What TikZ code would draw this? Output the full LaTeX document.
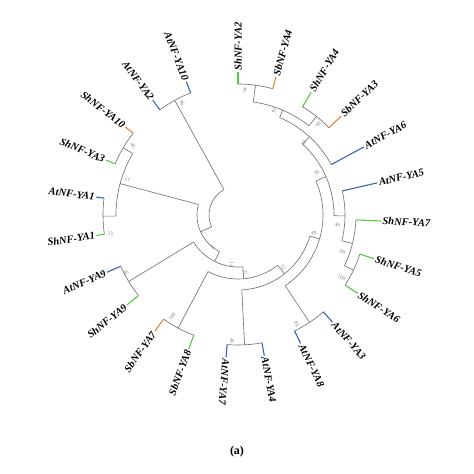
\documentclass[tikz,border=0pt]{standalone}
\usepackage{fontspec}
\setmainfont{Liberation Serif}
\usepackage{tikz}

\definecolor{atblue}{RGB}{52,100,190}
\definecolor{shgreen}{RGB}{86,200,64}
\definecolor{sborange}{RGB}{228,132,52}
\definecolor{treegray}{RGB}{115,115,115}
\definecolor{bootgray}{RGB}{130,130,130}

\begin{document}
\begin{tikzpicture}[x=1pt, y=1pt,
    branch/.style={treegray, line width=0.65pt},
    tipline/.style={line width=1.1pt},
    taxon/.style={font=\fontsize{10.5}{12}\selectfont\bfseries\itshape, inner sep=1.5pt},
    boot/.style={text=bootgray, font=\fontsize{5.3}{6}\selectfont, inner sep=0pt}]

\useasboundingbox (-238,-259) rectangle (236,215);

% --- inner clades: name / angle / radius / parent radius / arc from / arc to ---
\foreach \name/\ang/\r/\pr/\aa/\ab in {
    n94/82.3/131/114/90/74.6,
    n99/51.5/126/114/59.2/43.8,
    n96a/66.9/114/106/82.3/51.5,
    n33/47.65/106/96/66.9/28.4,
    n100a/-25.5/128/118/-17.8/-33.2,
    n68/-13.95/118/107/-2.4/-25.5,
    n46/-0.475/107/96/13/-13.95,
    n30/23.59/96/85/47.65/-0.475,
    n86/-56.3/129/85/-48.6/-64,
    n49a/-16.36/85/75/23.59/-56.3,
    n49b/-87.1/130/75/-79.4/-94.8,
    n52/-51.73/75/64/-16.36/-87.1,
    n100b/-117.9/128/64/-110.2/-125.6,
    n21/-84.8/64/52/-51.73/-117.9,
    n45/-148.7/128/52/-141/-156.4,
    n14/-116.77/52/41/-84.8/-148.7,
    n13/-179.5/135/122/-171.8/-187.2,
    n96b/-210.3/133/122/-202.6/-218,
    n17/-194.9/122/41/-179.5/-210.3,
    n8/-155.8/41/29/-116.77/-194.9,
    n96c/-241.1/131/29/-233.4/-248.8,
    root/-198.45/29/29/-155.8/-241.1}{
  \draw[branch] (\ang:\pr) -- (\ang:\r) coordinate (\name);
  \draw[branch] (\aa:\r) arc[start angle=\aa, end angle=\ab, radius=\r pt];
}

% --- leaves: label / angle / colour / radius of the parent arc ---
\foreach \name/\ang/\col/\pr in {
    ShNF-YA2/90/shgreen/131,
    SbNF-YA4/74.6/sborange/131,
    ShNF-YA4/59.2/shgreen/126,
    SbNF-YA3/43.8/sborange/126,
    AtNF-YA6/28.4/atblue/106,
    AtNF-YA5/13/atblue/107,
    ShNF-YA7/-2.4/shgreen/118,
    ShNF-YA5/-17.8/shgreen/128,
    ShNF-YA6/-33.2/shgreen/128,
    AtNF-YA3/-48.6/atblue/129,
    AtNF-YA8/-64/atblue/129,
    AtNF-YA4/-79.4/atblue/130,
    AtNF-YA7/-94.8/atblue/130,
    SbNF-YA8/-110.2/shgreen/128,
    SbNF-YA7/-125.6/sborange/128,
    ShNF-YA9/-141/shgreen/128,
    AtNF-YA9/-156.4/atblue/128,
    ShNF-YA1/-171.8/shgreen/135,
    AtNF-YA1/-187.2/atblue/135,
    ShNF-YA3/-202.6/shgreen/133,
    ShNF-YA10/-218/sborange/133,
    AtNF-YA2/-233.4/atblue/131,
    AtNF-YA10/-248.8/atblue/131}{
  \draw[tipline, \col] (\ang:\pr) -- (\ang:143) coordinate (tip-\name);
  \ifdim \ang pt>-100pt
    \node[taxon, anchor=west, rotate=\ang] (\name) at (tip-\name) {\name};
  \else
    \node[taxon, anchor=east, rotate=\ang+180] (\name) at (tip-\name) {\name};
  \fi
}

% --- bootstrap values: name / angle / radius / value ---
\foreach \name/\ang/\r/\val in {
    b94/86.8/125/94, b99/48.3/121/99, b96a/70.9/111/96, b33/47.6/97/33,
    b30/28/89/30, b46/-5.7/100/46, b68/-19.4/111/68, b100a/-31/121/100,
    b49a/-13.5/78/49, b52/-49/69/52, b21/-83/58/21, b14/-97/50/14,
    b8/-128/41/8, b86/-61.8/124/86, b49b/-92.7/126/49, b100b/-122.9/121/100,
    b45/-152.8/126/45, b13/-171.6/129/13, b17/161.9/116/17,
    b96b/146.6/126/96, b96c/116.6/125/96}{
  \ifdim \ang pt>-100pt
    \node[boot, rotate=\ang] (\name) at (\ang:\r) {\val};
  \else
    \node[boot, rotate=\ang+180] (\name) at (\ang:\r) {\val};
  \fi
}

\node[font=\fontsize{12}{14}\selectfont\bfseries] (caption) at (-1,-237) {(a)};
\end{tikzpicture}
\end{document}
